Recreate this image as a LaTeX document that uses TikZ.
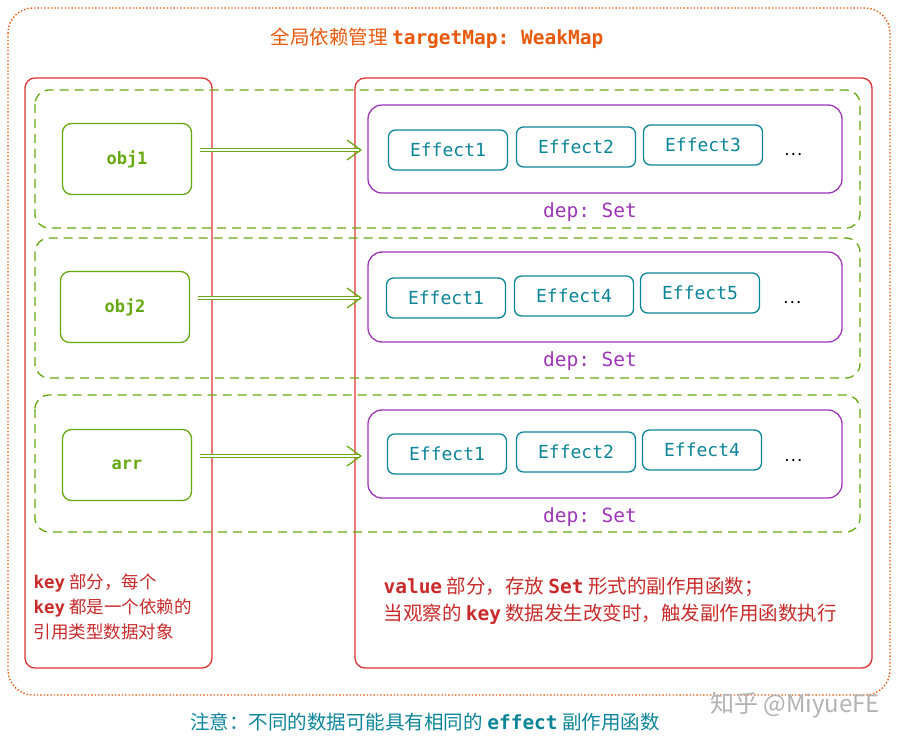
\documentclass[tikz,border=0pt]{standalone}
\usepackage{fontspec}
\setmainfont{Noto Sans CJK SC}
\setmonofont{DejaVu Sans Mono}
\usetikzlibrary{arrows.meta}
\definecolor{cor}{HTML}{E8590C}
\definecolor{cred}{HTML}{E03131}
\definecolor{cgreen}{HTML}{66A80F}
\definecolor{cpurple}{HTML}{9C36B5}
\definecolor{cteal}{HTML}{0C8599}
\definecolor{ctxt}{HTML}{C92A2A}
\newcommand{\fs}{\fontsize{17}{27}\selectfont}
\newcommand{\fb}{\fontsize{19.5}{27}\selectfont}
\begin{document}
\begin{tikzpicture}[x=1pt,y=-1pt,
  box/.style={draw,rounded corners=10pt,line width=1.3pt},
  keyn/.style={draw=cgreen,rounded corners=9pt,line width=1.3pt,minimum width=129pt,minimum height=71pt,text=cgreen,font=\fs\ttfamily\bfseries},
  eff/.style={draw=cteal,rounded corners=7pt,line width=1.3pt,minimum width=119pt,minimum height=40pt,text=cteal,font=\fontsize{18}{22}\selectfont\ttfamily},
  dep/.style={text=cpurple,font=\fb\ttfamily},
  arr/.style={double=white,draw=cgreen,double distance=2.5pt,line width=1pt,-{Straight Barb[length=14pt,width=20pt,line width=1.2pt]}},
  note/.style={font=\fb,anchor=west}]
\useasboundingbox (0,0) rectangle (901,746);
\draw[cor,dotted,line width=1.4pt,rounded corners=25pt] (8,8) rectangle (890,695);
\node[text=cor,font=\fb] (title) at (437,38) {全局依赖管理 \texttt{\textbf{targetMap: WeakMap}}};
\draw[box,cred] (25,78) rectangle (212,668);
\draw[box,cred] (355,78) rectangle (872,668);
\foreach \a/\b in {90/228,238/378,395/532}
  \draw[box,cgreen,dash pattern=on 9pt off 6pt,rounded corners=14pt] (35,\a) rectangle (860,\b);
\foreach \a/\b in {105/193,252/342,410/498}
  \draw[box,cpurple,rounded corners=14pt] (368,\a) rectangle (842,\b);
\node[keyn] (k1) at (127,159) {obj1};
\node[keyn] (k2) at (125,307) {obj2};
\node[keyn] (k3) at (127,465) {arr};
\coordinate (t1) at (362,150);
\coordinate (t2) at (362,298);
\coordinate (t3) at (362,456);
\draw[arr] (200,150) -- (t1);
\draw[arr] (198,298) -- (t2);
\draw[arr] (200,456) -- (t3);
\node[eff] (e11) at (448,150) {Effect1};
\node[eff] (e12) at (576,147) {Effect2};
\node[eff] (e13) at (703,145) {Effect3};
\node[font=\fs] (d1) at (793,155) {…};
\node[eff] (e21) at (446,298) {Effect1};
\node[eff] (e22) at (574,296) {Effect4};
\node[eff] (e23) at (700,293) {Effect5};
\node[font=\fs] (d2) at (792,303) {…};
\node[eff] (e31) at (447,454) {Effect1};
\node[eff] (e32) at (576,452) {Effect2};
\node[eff] (e33) at (702,450) {Effect4};
\node[font=\fs] (d3) at (793,461) {…};
\node[dep] (s1) at (590,212) {dep: Set};
\node[dep] (s2) at (590,361) {dep: Set};
\node[dep] (s3) at (590,517) {dep: Set};
\node[note,text=ctxt,align=left,anchor=north west,font=\fontsize{17.5}{25}\selectfont] (lt) at (30,570) {\texttt{\textbf{key}} 部分，每个\\\texttt{\textbf{key}} 都是一个依赖的\\引用类型数据对象};
\node[note,text=ctxt,align=left,anchor=north west] (rt) at (380,574) {\texttt{\textbf{value}} 部分，存放 \texttt{\textbf{Set}} 形式的副作用函数；\\当观察的 \texttt{\textbf{key}} 数据发生改变时，触发副作用函数执行};
\node[text=cteal,font=\fb] (bt) at (425,722) {注意：不同的数据可能具有相同的 \texttt{\textbf{effect}} 副作用函数};
\node[text=gray!60,font=\fontsize{24}{28}\selectfont] (wm) at (795,705) {知乎 @MiyueFE};
\end{tikzpicture}
\end{document}
